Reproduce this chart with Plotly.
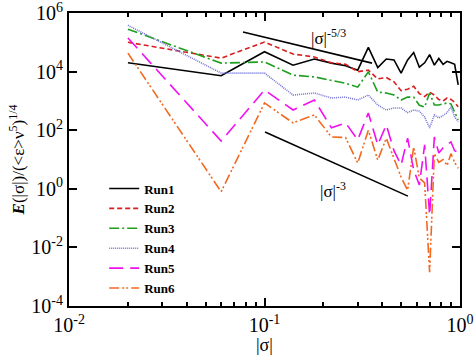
import plotly.graph_objects as go

sigma = [0.02, 0.06, 0.10, 0.14, 0.18, 0.22, 0.26, 0.30, 0.34, 0.38, 0.42, 0.46, 0.50,
         0.54, 0.58, 0.62, 0.66, 0.70, 0.74, 0.78, 0.82, 0.86, 0.90, 0.94, 0.98]

# log10 of E(|sigma|)/(<eps> nu^5)^(1/4)
run1 = [4.30, 3.86, 4.68, 4.22, 4.43, 4.29, 4.20, 4.05, 4.83, 4.14, 4.43, 4.40, 3.95,
        4.40, 4.65, 4.15, 4.30, 4.58, 4.22, 4.45, 4.25, 4.35, 4.30, 4.25, 3.55]
run2 = [5.00, 4.46, 5.01, 4.60, 4.50, 4.30, 4.25, 4.00, 4.05, 3.75, 3.80, 3.65, 3.35,
        3.40, 3.50, 3.25, 3.15, 3.30, 3.20, 3.05, 3.00, 3.10, 3.05, 2.95, 2.80]
run3 = [5.45, 4.29, 4.33, 3.88, 3.82, 3.70, 3.60, 3.47, 3.99, 3.30, 3.27, 3.20, 3.03,
        3.13, 3.13, 2.85, 2.79, 3.27, 2.86, 2.86, 2.90, 2.93, 2.90, 2.59, 2.35]
run4 = [5.58, 3.95, 3.95, 3.20, 3.27, 3.10, 3.13, 3.03, 3.20, 2.86, 2.69, 2.76, 2.76,
        2.60, 2.69, 2.65, 2.45, 2.08, 2.52, 2.42, 2.50, 2.60, 2.79, 2.45, 2.30]
run5 = [5.15, 1.63, 3.37, 2.69, 3.03, 2.08, 2.25, 1.67, 2.59, 1.50, 2.18, 1.30, 0.81,
        1.73, 0.64, 0.13, 1.50, -0.90, 1.77, 1.22, 1.40, 1.50, 1.60, 1.30, 1.25]
run6 = [4.63, -0.10, 2.93, 2.25, 2.52, 1.77, 1.75, 0.88, 2.00, 0.98, 1.73, 1.05, 0.40,
        -0.05, 1.43, 0.37, 0.20, -2.85, 1.20, 0.90, 1.00, 0.80, 1.20, 0.90, 0.70]

run_names = ["Run1", "Run2", "Run3", "Run4", "Run5", "Run6"]
run_colors = ["#000000", "#d81e1e", "#1e9e1e", "#7474d8", "#f010f0", "#f26a22"]
run_dashes = ["solid", "5px,3px", "10px,3px,2px,3px", "1px,1px", "14px,7px",
              "10px,3px,2px,2px,2px,3px"]
runs = [run1, run2, run3, run4, run5, run6]

# reference power-law slopes
slope53_x = [0.0776, 0.355]
slope53_logy = [5.35, 4.29]
slope3_x = [0.1006, 0.542]
slope3_logy = [1.94, -0.25]

y_tickvals = [1e6, 1e4, 1e2, 1e0, 1e-2, 1e-4]
y_ticktext = ["10<sup>6</sup>", "10<sup>4</sup>", "10<sup>2</sup>", "10<sup>0</sup>",
              "10<sup>-2</sup>", "10<sup>-4</sup>"]
x_tickvals = [0.01, 0.1, 1]
x_ticktext = ["10<sup>-2</sup>", "10<sup>-1</sup>", "10<sup>0</sup>"]
x_minor = [m * d for d in (0.01, 0.1) for m in range(2, 10)]

fig = go.Figure()
for name, vals, col, dash in zip(run_names, runs, run_colors, run_dashes):
    fig.add_trace(go.Scatter(
        x=sigma, y=[10 ** v for v in vals], mode="lines", name=name,
        line=dict(color=col, width=1.6, dash=dash)))

for xs, ly in ((slope53_x, slope53_logy), (slope3_x, slope3_logy)):
    fig.add_trace(go.Scatter(x=xs, y=[10 ** v for v in ly], mode="lines",
                             line=dict(color="black", width=1.6), showlegend=False))

serif = "Liberation Serif, Times New Roman, serif"
fig.update_layout(
    width=474, height=355,
    margin=dict(l=69, r=14, t=13, b=49, autoexpand=False),
    paper_bgcolor="white", plot_bgcolor="white",
    font=dict(family=serif, color="black", size=19),
    showlegend=True,
    legend=dict(x=0.09, y=0.452, xanchor="left", yanchor="top",
                bgcolor="rgba(0,0,0,0)", tracegroupgap=0,
                font=dict(family=serif, size=13, color="black", weight="bold")),
    annotations=[
        dict(x=-0.675, y=5.18, xref="x", yref="y", showarrow=False,
             text="|σ|<sup>-5/3</sup>", font=dict(family=serif, size=17, color="black")),
        dict(x=-0.65, y=-0.04, xref="x", yref="y", showarrow=False,
             text="|σ|<sup>-3</sup>", font=dict(family=serif, size=17, color="black")),
        dict(x=0.5, y=0, xref="paper", yref="paper", xanchor="center", yanchor="top",
             yshift=-27, showarrow=False, text="|σ|",
             font=dict(family=serif, size=18, color="black")),
    ],
)
fig.update_xaxes(
    type="log", range=[-2.0005, 0.0005], showgrid=False, zeroline=False, automargin=False,
    showline=True, linecolor="black", linewidth=2, mirror="ticks",
    ticks="inside", ticklen=8, tickwidth=1.5, tickcolor="black",
    tickvals=x_tickvals, ticktext=x_ticktext, tickfont=dict(size=20),
    ticklabeloverflow="allow",
    minor=dict(tickvals=x_minor, ticks="inside", ticklen=4, tickwidth=1.5, tickcolor="black"),
)
fig.update_yaxes(
    type="log", range=[-4.001, 6.001], showgrid=False, zeroline=False, automargin=False,
    showline=True, linecolor="black", linewidth=2, mirror="ticks",
    ticks="inside", ticklen=8, tickwidth=1.5, tickcolor="black",
    tickvals=y_tickvals, ticktext=y_ticktext, tickfont=dict(size=20),
    ticklabeloverflow="allow",
    title=dict(text="<b><i>E</i></b>(|σ|)/(&lt;ε&gt;ν<sup>5</sup>)<sup>1/4</sup>",
               font=dict(family=serif, size=17), standoff=2),
)

fig.write_html(
    "out.html",
    config={"displayModeBar": False},
    post_script="document.body.style.margin='0';document.body.style.overflow='hidden';",
)
